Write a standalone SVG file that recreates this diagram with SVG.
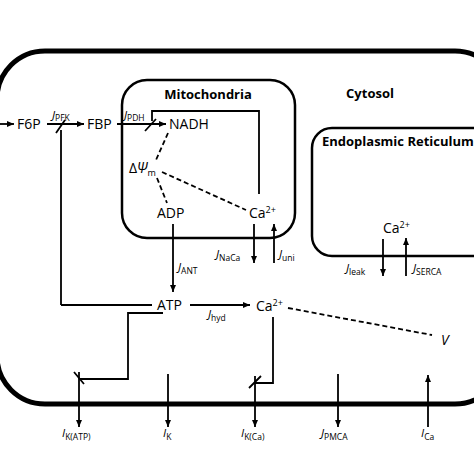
<svg xmlns="http://www.w3.org/2000/svg" width="474" height="474" viewBox="0 0 474 474">
<defs>
<marker id="ah" markerWidth="8" markerHeight="8" refX="7" refY="4" orient="auto" markerUnits="userSpaceOnUse">
<path d="M0,1 L7,4 L0,7 Z" fill="#000"/>
</marker>
<style>
.t{font-family:"Open Sans","Liberation Sans",sans-serif;font-size:14px;fill:#000}
.b{font-family:"Open Sans","Liberation Sans",sans-serif;font-size:13px;font-weight:bold;fill:#000}
.j{font-family:"Open Sans","Liberation Sans",sans-serif;font-size:11.5px;font-style:italic;fill:#000}
.s{font-style:normal;font-size:8.5px}
.sup{font-size:9px}
.ln{fill:none;stroke:#000;stroke-width:1.8}
.ar{fill:none;stroke:#000;stroke-width:1.8;marker-end:url(#ah)}
.ds{fill:none;stroke:#000;stroke-width:1.8;stroke-dasharray:5,3}
</style>
</defs>
<g id="cell"><rect x="-3" y="51" width="506" height="353" rx="48" fill="none" stroke="#000" stroke-width="5"/><text class="b" x="370" y="98" text-anchor="middle">Cytosol</text></g>
<g id="mitochondria"><rect x="122" y="80" width="173" height="158" rx="25" fill="none" stroke="#000" stroke-width="2.5"/><text class="b" x="208" y="99" text-anchor="middle">Mitochondria</text></g>
<g id="er"><rect x="312" y="128" width="190" height="128" rx="20" fill="none" stroke="#000" stroke-width="2.5"/><text class="b" x="322" y="146">Endoplasmic Reticulum</text></g>
<g id="F6P"><text class="t" x="17" y="129">F6P</text></g>
<g id="FBP"><text class="t" x="87" y="129">FBP</text></g>
<g id="NADH"><text class="t" x="169" y="129">NADH</text></g>
<g id="dpsi"><text class="t" x="129" y="173">Δ<tspan font-style="italic">Ψ</tspan><tspan class="sup" dy="3">m</tspan></text></g>
<g id="ADP"><text class="t" x="157" y="218">ADP</text></g>
<g id="Ca_m"><text class="t" x="249" y="218">Ca<tspan class="sup" dy="-5">2+</tspan></text></g>
<g id="Ca_er"><text class="t" x="383" y="233">Ca<tspan class="sup" dy="-5">2+</tspan></text></g>
<g id="ATP"><text class="t" x="157" y="310">ATP</text></g>
<g id="Ca_c"><text class="t" x="256" y="311">Ca<tspan class="sup" dy="-5">2+</tspan></text></g>
<g id="V"><text class="t" x="441" y="345" font-style="italic">V</text></g>
<g id="connectors">
<path class="ar" d="M0,124 H14"/>
<path class="ar" d="M47,124 H84"/>
<path class="ar" d="M117,124 H166"/>
<path class="ln" d="M61,305 V130 M56,133 L65,120"/>
<path class="ln" d="M152,305 H61"/>
<path class="ln" d="M145,131 L156,119 M152,121 V111 H259 V194"/>
<path class="ds" d="M168,133 L156,160"/>
<path class="ds" d="M157,178 L167,203"/>
<path class="ds" d="M162,172 L246,210"/>
<path class="ar" d="M173,224 V292"/>
<path class="ar" d="M254,224 V263"/>
<path class="ar" d="M274,263 V224"/>
<path class="ar" d="M383,239 V276"/>
<path class="ar" d="M406,276 V238"/>
<path class="ar" d="M190,305 H250"/>
<path class="ds" d="M288,308 L432,335"/>
<path class="ln" d="M163,313 H128 V379 H79 M74,372 L84,384"/>
<path class="ln" d="M273,317 V383 H255 M249,388 L261,376"/>
<path class="ar" d="M79,372 V427"/>
<path class="ar" d="M168,374 V427"/>
<path class="ar" d="M255,376 V427"/>
<path class="ar" d="M338,374 V427"/>
<path class="ar" d="M428,427 V375"/>
</g>
<g id="labels">
<text class="j" x="52" y="119">J<tspan class="s" dy="2">PFK</tspan></text>
<text class="j" x="124" y="119">J<tspan class="s" dy="2">PDH</tspan></text>
<text class="j" x="178" y="271">J<tspan class="s" dy="3">ANT</tspan></text>
<text class="j" x="216" y="258">J<tspan class="s" dy="3">NaCa</tspan></text>
<text class="j" x="279" y="258">J<tspan class="s" dy="3">uni</tspan></text>
<text class="j" x="346" y="272">J<tspan class="s" dy="3">leak</tspan></text>
<text class="j" x="413" y="272">J<tspan class="s" dy="3">SERCA</tspan></text>
<text class="j" x="208" y="318">J<tspan class="s" dy="3">hyd</tspan></text>
<text class="j" x="62" y="437">I<tspan class="s" dy="3">K(ATP)</tspan></text>
<text class="j" x="163" y="437">I<tspan class="s" dy="3">K</tspan></text>
<text class="j" x="241" y="437">I<tspan class="s" dy="3">K(Ca)</tspan></text>
<text class="j" x="321" y="437">J<tspan class="s" dy="3">PMCA</tspan></text>
<text class="j" x="421" y="437">I<tspan class="s" dy="3">Ca</tspan></text>
</g>
</svg>
